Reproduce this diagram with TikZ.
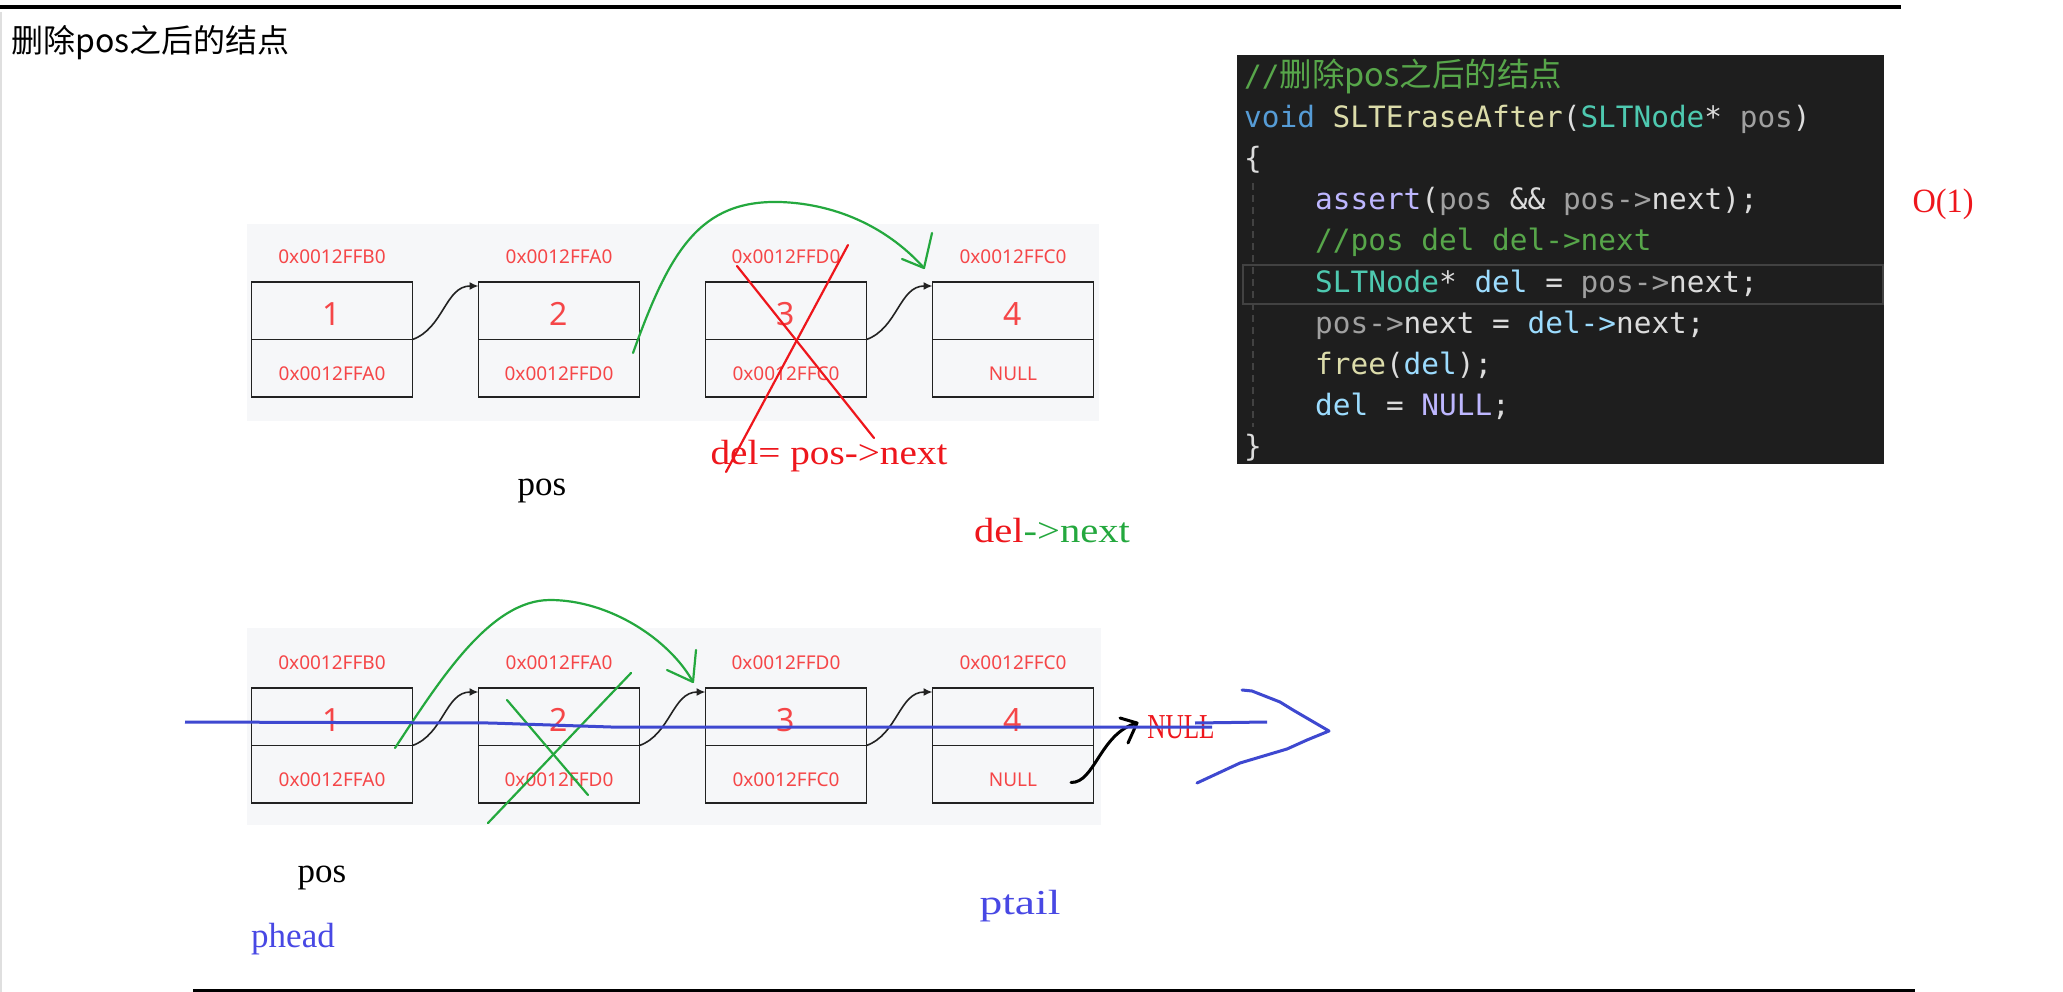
\documentclass[tikz,border=0pt]{standalone}
\usepackage{fontspec}
\setmainfont{Liberation Serif}
\newfontfamily\cjkfont{Noto Sans CJK SC}
\newfontfamily\sansfont{Noto Sans}
\newfontfamily\codefont{DejaVu Sans Mono}
\usetikzlibrary{positioning, arrows.meta}

\definecolor{listbg}{RGB}{246,247,249}
\definecolor{addrred}{RGB}{245,70,72}
\definecolor{boxline}{RGB}{34,34,34}
\definecolor{penred}{RGB}{238,22,28}
\definecolor{pengreen}{RGB}{36,168,62}
\definecolor{penblue}{RGB}{62,72,208}
\definecolor{labblue}{RGB}{72,72,228}
\definecolor{codebg}{RGB}{30,30,30}
\definecolor{codeframe}{RGB}{66,66,66}
\definecolor{cgreen}{RGB}{87,166,74}
\definecolor{ckey}{RGB}{86,156,214}
\definecolor{cfunc}{RGB}{220,220,170}
\definecolor{ctype}{RGB}{78,201,176}
\definecolor{cparam}{RGB}{160,160,160}
\definecolor{cvar}{RGB}{156,220,254}
\definecolor{cmacro}{RGB}{190,183,255}
\definecolor{cplain}{RGB}{220,220,220}

\newcommand{\fsz}[1]{\fontsize{#1}{#1}\selectfont}
\newcommand{\tok}[2]{\textcolor{#1}{#2}}
\newcommand{\wide}[2]{\scalebox{#1}[1]{#2}}

\begin{document}
\begin{tikzpicture}[x=1pt, y=-1pt, >={Latex[length=9pt, width=8pt]}, node distance=66pt,
    valbox/.style={draw=boxline, line width=1.6pt, minimum width=161pt, minimum height=57.5pt, inner sep=0pt, outer sep=0pt, text=addrred, text height=30.3pt, text depth=0pt, font=\sansfont\fsz{32}},
    ptrbox/.style={valbox, text height=24.6pt, font=\sansfont\fsz{19}},
    addr/.style={text=addrred, font=\sansfont\fsz{19}},
    link/.style={->, line width=1.6pt, boxline},
    pen/.style={line width=2.2pt, line cap=round, line join=round},
    note/.style={font=\fsz{35}, inner sep=0pt},
    codeline/.style={anchor=base west, inner sep=0pt, font=\codefont\fsz{29.4}, text=cplain}]
    \useasboundingbox (0,0) rectangle (2063,992);
    \fill[white] (0,0) rectangle (2063,992);

    \draw[line width=4.5pt] (0,7) -- (1901,7);
    \draw[line width=3pt] (193,990) -- (1915,990);
    \draw[gray!25, line width=2pt] (1,12) -- (1,992);
    \node (title) [anchor=west, inner sep=0pt, font=\cjkfont\fsz{32}] at (11,43) {删除pos之后的结点};

    \fill[listbg] (247,224) rectangle (1099,421);
    \fill[listbg] (247,628) rectangle (1101,825);

    % before
    \node (t1) [valbox] at (332,310.75) {1};
    \node (t1n) [ptrbox, below=0pt of t1] {0x0012FFA0};
    \node (t2) [valbox, right=of t1] {2};
    \node (t2n) [ptrbox, below=0pt of t2] {0x0012FFD0};
    \node (t3) [valbox, right=of t2] {3};
    \node (t3n) [ptrbox, below=0pt of t3] {0x0012FFC0};
    \node (t4) [valbox, right=of t3] {4};
    \node (t4n) [ptrbox, below=0pt of t4] {NULL};
    \node (t1a) [addr, above=15pt of t1] {0x0012FFB0};
    \node (t2a) [addr, above=15pt of t2] {0x0012FFA0};
    \node (t3a) [addr, above=15pt of t3] {0x0012FFD0};
    \node (t4a) [addr, above=15pt of t4] {0x0012FFC0};

    \draw[link] (t1n.north east) to[out=20, in=180] ([yshift=-4pt]t2.north west);
    \draw[link] (t3n.north east) to[out=20, in=180] ([yshift=-4pt]t4.north west);

    \coordinate (g1s) at (633,353);
    \coordinate (g1e) at (924,268);
    \draw[pen, pengreen] (g1s) .. controls (670,250) and (700,200) .. (780,202) .. controls (840,204) and (890,230) .. (g1e);
    \draw[pen, pengreen] (g1e) ++(8,-35) -- (g1e) -- ++(-22,-9);
    \draw[pen, penred] (737,266) -- (874,438);
    \draw[pen, penred] (848,245) -- (726,472);

    \node (delpos) [note, text=penred] at (829,456) {\wide{1.12}{del= pos->next}};
    \node (pos1) [note] at (542,491) {pos};
    \node (delnext) [note] at (1052,531) {\wide{1.16}{\tok{penred}{del}\tok{pengreen}{->next}}};

    % code
    \fill[codebg] (1237,55) rectangle (1884,464);
    \draw[codeframe, line width=2pt] (1243,265) rectangle (1883,304);
    \draw[codeframe, line width=1.2pt, dash pattern=on 7pt off 5pt] (1253,183) -- (1253,427);
    \node (c1) [codeline] at (1244,87) {\tok{cgreen}{//{\cjkfont\fsz{32.5}删除pos之后的结点}}};
    \node (c2) [codeline] at (1244,128) {\tok{ckey}{void} \tok{cfunc}{SLTEraseAfter}(\tok{ctype}{SLTNode}* \tok{cparam}{pos})};
    \node (c3) [codeline] at (1244,169) {\{};
    \node (c4) [codeline] at (1315,210) {\tok{cmacro}{assert}(\tok{cparam}{pos} \&\& \tok{cparam}{pos->}next);};
    \node (c5) [codeline] at (1315,251) {\tok{cgreen}{//pos del del->next}};
    \node (c6) [codeline] at (1315,292) {\tok{ctype}{SLTNode}* \tok{cvar}{del} = \tok{cparam}{pos->}next;};
    \node (c7) [codeline] at (1315,333) {\tok{cparam}{pos->}next = \tok{cvar}{del->}next;};
    \node (c8) [codeline] at (1315,374) {\tok{cfunc}{free}(\tok{cvar}{del});};
    \node (c9) [codeline] at (1315,415) {\tok{cvar}{del} = \tok{cmacro}{NULL};};
    \node (c10) [codeline] at (1244,456) {\}};
    \node (cost) [note, text=penred, font=\fsz{34}] at (1943,204) {\wide{0.95}{O(1)}};

    % after
    \node (b1) [valbox] at (332,716.75) {1};
    \node (b1n) [ptrbox, below=0pt of b1] {0x0012FFA0};
    \node (b2) [valbox, right=of b1] {2};
    \node (b2n) [ptrbox, below=0pt of b2] {0x0012FFD0};
    \node (b3) [valbox, right=of b2] {3};
    \node (b3n) [ptrbox, below=0pt of b3] {0x0012FFC0};
    \node (b4) [valbox, right=of b3] {4};
    \node (b4n) [ptrbox, below=0pt of b4] {NULL};
    \node (b1a) [addr, above=15pt of b1] {0x0012FFB0};
    \node (b2a) [addr, above=15pt of b2] {0x0012FFA0};
    \node (b3a) [addr, above=15pt of b3] {0x0012FFD0};
    \node (b4a) [addr, above=15pt of b4] {0x0012FFC0};

    \draw[link] (b1n.north east) to[out=20, in=180] ([yshift=-4pt]b2.north west);
    \draw[link] (b2n.north east) to[out=20, in=180] ([yshift=-4pt]b3.north west);
    \draw[link] (b3n.north east) to[out=20, in=180] ([yshift=-4pt]b4.north west);

    \coordinate (g2s) at (395,748);
    \coordinate (g2e) at (693,682);
    \draw[pen, pengreen] (g2s) .. controls (440,680) and (490,600) .. (550,600) .. controls (610,600) and (670,640) .. (g2e);
    \draw[pen, pengreen] (g2e) ++(3,-32) -- (g2e) -- ++(-26,-12);
    \draw[pen, pengreen] (507,700) -- (588,795);
    \draw[pen, pengreen] (631,673) -- (488,823);

    \node (nullr) [note, text=penred] at (1181,727) {\wide{0.72}{NULL}};
    \coordinate (nulltip) at (1137,723);
    \draw[line width=3pt, line cap=round, line join=round] ([xshift=58pt, yshift=-8.25pt]b4n.center) .. controls (1095,783) and (1100,733) .. (nulltip);
    \draw[line width=3pt, line cap=round, line join=round] (nulltip) ++(-17,-5) -- (nulltip) -- ++(-9,20);

    % traversal
    \draw[penblue, line width=3pt] (185,722) -- (490,723) -- (611,727) -- (1212,727);
    \draw[penblue, line width=3pt] (1195,723) -- (1267,722);
    \draw[penblue, line width=3pt, line cap=round, line join=round] (1242,690) -- (1252,691) -- (1280,702) -- (1293,710) -- (1329,731) -- (1307,740) -- (1287,749) -- (1240,763) -- (1197,783);

    \node (pos2) [note] at (322,878) {pos};
    \node (ptail) [note, text=labblue] at (1020,906) {\wide{1.3}{ptail}};
    \node (phead) [note, text=labblue] at (293,939) {phead};
\end{tikzpicture}
\end{document}
